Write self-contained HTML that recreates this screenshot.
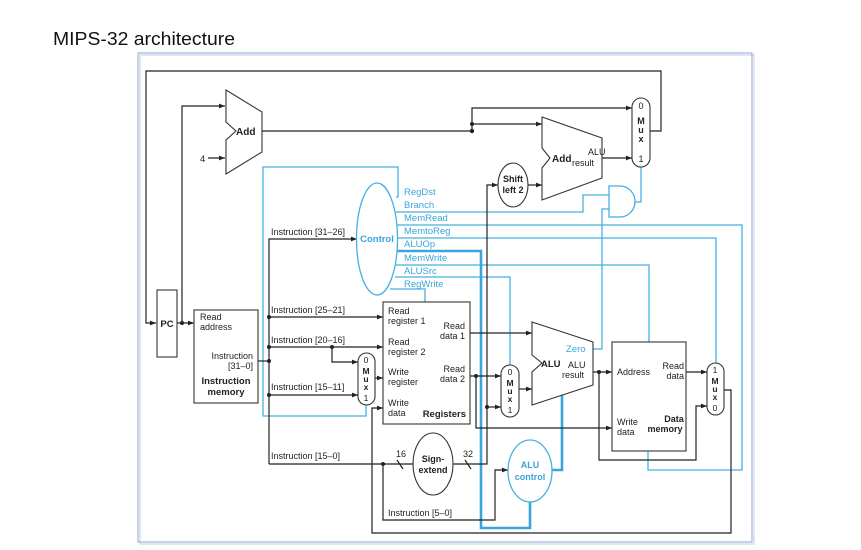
<!DOCTYPE html>
<html><head><meta charset="utf-8"><style>
html,body{margin:0;padding:0;background:#fff;width:861px;height:550px;overflow:hidden}
svg{display:block}
text{font-family:"Liberation Sans",Arial,sans-serif}
</style></head><body>
<svg width="861" height="550" viewBox="0 0 861 550" xmlns="http://www.w3.org/2000/svg">
<defs>
<marker id="a" viewBox="0 0 10 10" refX="10" refY="5" markerWidth="6" markerHeight="6" orient="auto" markerUnits="userSpaceOnUse"><path d="M0,1 L10,5 L0,9 z" fill="#222"/></marker>
</defs>
<text x="53" y="45" font-size="18" fill="#111" textLength="182" lengthAdjust="spacingAndGlyphs">MIPS-32 architecture</text>
<rect x="140" y="55" width="614" height="489" fill="none" stroke="#e2e6ec" stroke-width="2"/>
<rect x="138" y="53" width="614" height="489" fill="none" stroke="#8aa7d8" stroke-width="1"/>

<g fill="none" stroke="#45b0e0" stroke-width="1.3">
<polyline points="396,197 398,197 398,167 263,167 263,416 366,416 366,405"/>
<polyline points="396,212 583,212 583,195 609,195"/>
<polyline points="396,225 742,225 742,470 648,470 648,451"/>
<polyline points="397,238 716,238 716,363"/>
<polyline points="396,265 649,265 649,342"/>
<polyline points="395,277 510,277 510,365"/>
<polyline points="390,289 425,289 425,302"/>
<polyline points="593,349 602,349 602,209 609,209"/>
<polyline points="635,202 641,202 641,167"/>
</g>
<g fill="none" stroke="#3aa5dc" stroke-width="2.6">
<polyline points="397,251 481,251 481,528 530,528 530,500"/>
<polyline points="562,395 562,470 552,470"/>
</g>

<g fill="none" stroke="#222" stroke-width="1.2">
<polyline points="650,131 661,131 661,71 146,71 146,323 156,323" marker-end="url(#a)"/>
<polyline points="177,323 194,323" marker-end="url(#a)"/>
<polyline points="182,323 182,106 225,106" marker-end="url(#a)"/>
<polyline points="208,158 225,158" marker-end="url(#a)"/>
<polyline points="262,131 472,131 472,108 632,108" marker-end="url(#a)"/>
<polyline points="472,124 542,124" marker-end="url(#a)"/>
<polyline points="602,158 632,158" marker-end="url(#a)"/>
<polyline points="528,185 542,185" marker-end="url(#a)"/>
<polyline points="258,361 269,361"/>
<polyline points="269,464 269,239 357,239" marker-end="url(#a)"/>
<polyline points="269,317 383,317" marker-end="url(#a)"/>
<polyline points="269,347 383,347" marker-end="url(#a)"/>
<polyline points="332,347 332,362 358,362" marker-end="url(#a)"/>
<polyline points="269,395 358,395" marker-end="url(#a)"/>
<polyline points="375,378 383,378" marker-end="url(#a)"/>
<polyline points="269,464 413,464"/>
<polyline points="383,464 383,520 495,520 495,470 508,470" marker-end="url(#a)"/>
<polyline points="453,464 487,464 487,185 498,185" marker-end="url(#a)"/>
<polyline points="487,407 501,407" marker-end="url(#a)"/>
<polyline points="470,333 532,333" marker-end="url(#a)"/>
<polyline points="470,376 501,376" marker-end="url(#a)"/>
<polyline points="476,376 476,428 612,428" marker-end="url(#a)"/>
<polyline points="519,389 532,389" marker-end="url(#a)"/>
<polyline points="593,372 612,372" marker-end="url(#a)"/>
<polyline points="599,372 599,460 696,460 696,406 707,406" marker-end="url(#a)"/>
<polyline points="686,372 707,372" marker-end="url(#a)"/>
<polyline points="723,390 731,390 731,533 372,533 372,408 383,408" marker-end="url(#a)"/>
<line x1="397" y1="460" x2="403" y2="469"/>
<line x1="465" y1="460" x2="471" y2="469"/>
</g>
<g fill="#222">
<circle cx="182" cy="323" r="2"/><circle cx="472" cy="131" r="2.2"/><circle cx="472" cy="124" r="2"/>
<circle cx="269" cy="317" r="2"/><circle cx="269" cy="347" r="2"/><circle cx="269" cy="361" r="2"/><circle cx="269" cy="395" r="2"/>
<circle cx="332" cy="347" r="2"/><circle cx="383" cy="464" r="2"/><circle cx="487" cy="407" r="2"/>
<circle cx="476" cy="376" r="2"/><circle cx="599" cy="372" r="2"/>
</g>

<g fill="#fff" stroke="#333" stroke-width="1.1">
<polygon points="226,90 262,112 262,152 226,174 226,140 236,131 226,122"/>
<polygon points="542,117 602,138 602,178 542,200 542,168 550,158 542,148"/>
<rect x="632" y="98" width="18" height="69" rx="9"/>
<ellipse cx="513" cy="185" rx="15" ry="22"/>
<rect x="157" y="290" width="20" height="67"/>
<rect x="194" y="310" width="64" height="93"/>
<rect x="383" y="302" width="87" height="122"/>
<rect x="358" y="353" width="17" height="52" rx="8.5"/>
<ellipse cx="433" cy="464" rx="20" ry="31"/>
<rect x="501" y="365" width="18" height="52" rx="9"/>
<polygon points="532,322 593,342 593,385 532,405 532,372 542,363 532,355"/>
<rect x="612" y="342" width="74" height="109"/>
<rect x="707" y="363" width="17" height="52" rx="8.5"/>
</g>
<path d="M609,186 L620,186 A15,15.5 0 0 1 620,217 L609,217 Z" fill="#fff" stroke="#45b0e0" stroke-width="1.3"/>
<ellipse cx="377" cy="239" rx="20.5" ry="56" fill="#fff" stroke="#45b0e0" stroke-width="1.3"/>
<ellipse cx="530" cy="471" rx="22" ry="31" fill="#fff" stroke="#45b0e0" stroke-width="1.3"/>

<g font-size="9.5" fill="#222">
<text x="200" y="162">4</text>
<text x="236" y="135" font-weight="bold" font-size="10">Add</text>
<text x="552" y="162" font-weight="bold" font-size="10">Add</text>
<text x="588" y="155" font-size="9">ALU</text>
<text x="572" y="166" font-size="9">result</text>
<text x="513" y="182" text-anchor="middle" font-weight="bold" font-size="9">Shift</text>
<text x="513" y="193" text-anchor="middle" font-weight="bold" font-size="9">left 2</text>
<text x="641" y="109" text-anchor="middle" font-size="9">0</text>
<text x="641" y="124" text-anchor="middle" font-weight="bold" font-size="9">M</text>
<text x="641" y="133" text-anchor="middle" font-weight="bold" font-size="9">u</text>
<text x="641" y="142" text-anchor="middle" font-weight="bold" font-size="9">x</text>
<text x="641" y="162" text-anchor="middle" font-size="9">1</text>
<text x="167" y="327" text-anchor="middle" font-weight="bold">PC</text>
<text x="200" y="320" font-size="9">Read</text>
<text x="200" y="330" font-size="9">address</text>
<text x="253" y="359" text-anchor="end" font-size="9">Instruction</text>
<text x="253" y="369" text-anchor="end" font-size="9">[31–0]</text>
<text x="226" y="384" text-anchor="middle" font-weight="bold" font-size="9.5">Instruction</text>
<text x="226" y="395" text-anchor="middle" font-weight="bold" font-size="9.5">memory</text>
<text x="271" y="235" font-size="9">Instruction [31–26]</text>
<text x="271" y="313" font-size="9">Instruction [25–21]</text>
<text x="271" y="343" font-size="9">Instruction [20–16]</text>
<text x="271" y="390" font-size="9">Instruction [15–11]</text>
<text x="271" y="459" font-size="9">Instruction [15–0]</text>
<text x="388" y="516" font-size="9">Instruction [5–0]</text>
<text x="396" y="457" font-size="9">16</text>
<text x="463" y="457" font-size="9">32</text>
<text x="366" y="363" text-anchor="middle" font-size="8.5">0</text>
<text x="366" y="374" text-anchor="middle" font-weight="bold" font-size="8.5">M</text>
<text x="366" y="382" text-anchor="middle" font-weight="bold" font-size="8.5">u</text>
<text x="366" y="390" text-anchor="middle" font-weight="bold" font-size="8.5">x</text>
<text x="366" y="401" text-anchor="middle" font-size="8.5">1</text>
<text x="388" y="314" font-size="9">Read</text>
<text x="388" y="324" font-size="9">register 1</text>
<text x="388" y="345" font-size="9">Read</text>
<text x="388" y="355" font-size="9">register 2</text>
<text x="388" y="375" font-size="9">Write</text>
<text x="388" y="385" font-size="9">register</text>
<text x="388" y="406" font-size="9">Write</text>
<text x="388" y="416" font-size="9">data</text>
<text x="465" y="329" text-anchor="end" font-size="9">Read</text>
<text x="465" y="339" text-anchor="end" font-size="9">data 1</text>
<text x="465" y="372" text-anchor="end" font-size="9">Read</text>
<text x="465" y="382" text-anchor="end" font-size="9">data 2</text>
<text x="466" y="417" text-anchor="end" font-weight="bold" font-size="9.5">Registers</text>
<text x="433" y="462" text-anchor="middle" font-weight="bold" font-size="9">Sign-</text>
<text x="433" y="473" text-anchor="middle" font-weight="bold" font-size="9">extend</text>
<text x="510" y="375" text-anchor="middle" font-size="8.5">0</text>
<text x="510" y="386" text-anchor="middle" font-weight="bold" font-size="8.5">M</text>
<text x="510" y="394" text-anchor="middle" font-weight="bold" font-size="8.5">u</text>
<text x="510" y="402" text-anchor="middle" font-weight="bold" font-size="8.5">x</text>
<text x="510" y="413" text-anchor="middle" font-size="8.5">1</text>
<text x="541" y="367" font-weight="bold" font-size="9.5">ALU</text>
<text x="568" y="368" font-size="9">ALU</text>
<text x="562" y="378" font-size="9">result</text>
<text x="617" y="375" font-size="9">Address</text>
<text x="684" y="369" text-anchor="end" font-size="9">Read</text>
<text x="684" y="379" text-anchor="end" font-size="9">data</text>
<text x="617" y="425" font-size="9">Write</text>
<text x="617" y="435" font-size="9">data</text>
<text x="674" y="422" text-anchor="middle" font-weight="bold" font-size="9">Data</text>
<text x="665" y="432" text-anchor="middle" font-weight="bold" font-size="9">memory</text>
<text x="715" y="373" text-anchor="middle" font-size="8.5">1</text>
<text x="715" y="384" text-anchor="middle" font-weight="bold" font-size="8.5">M</text>
<text x="715" y="392" text-anchor="middle" font-weight="bold" font-size="8.5">u</text>
<text x="715" y="400" text-anchor="middle" font-weight="bold" font-size="8.5">x</text>
<text x="715" y="411" text-anchor="middle" font-size="8.5">0</text>
</g>
<g font-size="9.5" fill="#3aa5dc">
<text x="377" y="242" text-anchor="middle" font-weight="bold">Control</text>
<text x="404" y="195">RegDst</text>
<text x="404" y="208">Branch</text>
<text x="404" y="221">MemRead</text>
<text x="404" y="234">MemtoReg</text>
<text x="404" y="247">ALUOp</text>
<text x="404" y="261">MemWrite</text>
<text x="404" y="274">ALUSrc</text>
<text x="404" y="287">RegWrite</text>
<text x="566" y="352">Zero</text>
<text x="530" y="468" text-anchor="middle" font-weight="bold" font-size="9">ALU</text>
<text x="530" y="480" text-anchor="middle" font-weight="bold" font-size="9">control</text>
</g>
</svg>
</body></html>
